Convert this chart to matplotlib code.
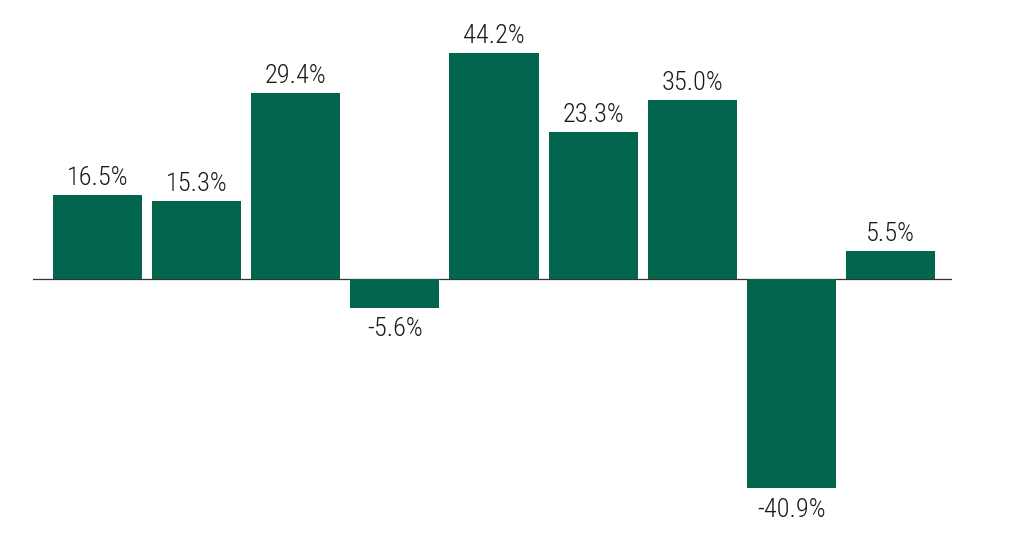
import matplotlib.pyplot as plt

# bar heights as drawn in the picture (two bars do not match their printed labels)
values = [16.5, 15.3, 36.3, -5.6, 44.2, 28.7, 35.0, -40.9, 5.5]
labels = ['16.5%', '15.3%', '29.4%', '-5.6%', '44.2%', '23.3%', '35.0%', '-40.9%', '5.5%']

bar_color = '#02664f'
label_font = ['Roboto Condensed', 'Roboto', 'DejaVu Sans']

fig = plt.figure(figsize=(10.24, 5.36), dpi=100)
ax = fig.add_axes([33 / 1024, 0, 919 / 1024, 1])

x = range(len(values))
ax.bar(x, values, width=0.9, color=bar_color, zorder=2)
ax.axhline(0, color='#333333', linewidth=0.9, zorder=1)

for xi, v, lab in zip(x, values, labels):
    if v >= 0:
        ax.annotate(lab, (xi, v), xytext=(0, 7), textcoords='offset points',
                    ha='center', va='baseline', fontsize=19, family=label_font,
                    fontweight='light', color='#1a1a1a')
    else:
        ax.annotate(lab, (xi, v), xytext=(0, -7), textcoords='offset points',
                    ha='center', va='top', fontsize=19, family=label_font,
                    fontweight='light', color='#1a1a1a')

ax.set_xlim(-0.65, 8.62)
ax.set_ylim(-50.2, 54.5)
ax.axis('off')

fig.savefig('out.png', dpi=100)
